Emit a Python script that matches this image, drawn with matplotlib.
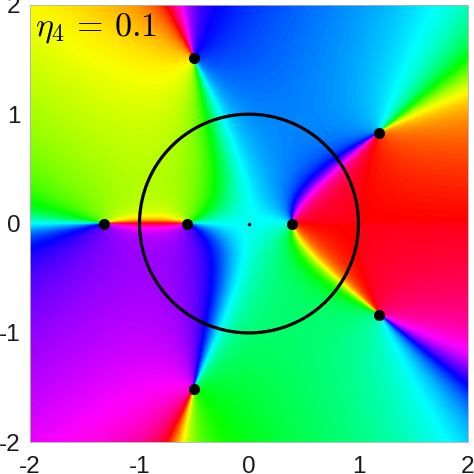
import numpy as np
import matplotlib
matplotlib.use("Agg")
import matplotlib.pyplot as plt

zeros_re = [-0.505, -0.505, 1.19, 1.19, -1.327, -0.563, 0.396]
zeros_im = [1.51, -1.51, 0.832, -0.832, 0.0, 0.0, 0.0]
centre = [0.0, 0.0]
coef_conj_square = 1.494
coef_const = -0.296
ticks = [-2, -1, 0, 1, 2]
tick_labels = ["-2", "-1", "0", "1", "2"]
label = r"$\eta_4\,=\,0.1$"

plt.rcParams["font.family"] = ["Liberation Sans", "DejaVu Sans"]
plt.rcParams["mathtext.fontset"] = "cm"

fig = plt.figure(figsize=(4.74, 4.74), dpi=100)
W = 474.0
ax = fig.add_axes([30 / W, 1 - 442.3 / W, 438 / W, 437.5 / W])

n = 900
xs = np.linspace(-2, 2, n)
X, Y = np.meshgrid(xs, xs)
Z = X + 1j * Y
F = Z**3 + coef_conj_square * np.conj(Z)**2 + coef_const
phase = np.mod(np.angle(F), 2 * np.pi)
ax.imshow(phase, extent=[-2, 2, -2, 2], origin="lower", cmap="hsv",
          vmin=0, vmax=2 * np.pi, interpolation="bilinear", aspect="auto")

t = np.linspace(0, 2 * np.pi, 400)
ax.plot(np.cos(t), np.sin(t), color="black", lw=2.3)
ax.plot(zeros_re, zeros_im, "o", color="black", ms=8.0, mew=0)
ax.plot(centre[0], centre[1], "o", color="#111111", ms=2.6, mew=0)

ax.set_xlim(-2, 2)
ax.set_ylim(-2, 2)
ax.set_xticks(ticks, tick_labels)
ax.set_yticks(ticks, tick_labels)
ax.tick_params(length=0, labelsize=17.5, labelcolor="#1a1a1a")
ax.tick_params(axis="x", pad=10)
ax.tick_params(axis="y", pad=7)
for s in ax.spines.values():
    s.set_color("#b0b0b0")
    s.set_linewidth(0.6)
ax.text(0.012, 0.985, label, transform=ax.transAxes, fontsize=24.5,
        va="top", ha="left", color="black")
fig.savefig("out.png", dpi=100)
